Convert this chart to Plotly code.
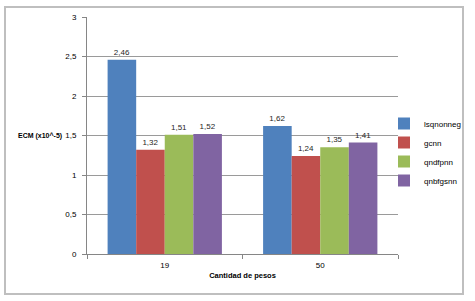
import plotly.graph_objects as go

categories = ["19", "50"]
series_names = ["lsqnonneg", "gcnn", "qndfpnn", "qnbfgsnn"]
values = {
    "lsqnonneg": [2.46, 1.62],
    "gcnn": [1.32, 1.24],
    "qndfpnn": [1.51, 1.35],
    "qnbfgsnn": [1.52, 1.41],
}
colors = ["#4F81BD", "#C0504D", "#9BBB59", "#8064A2"]
y_ticks = [0, 0.5, 1, 1.5, 2, 2.5, 3]
y_tick_labels = ["0", "0,5", "1", "1,5", "2", "2,5", "3"]

W, H = 475, 301
L, R, T, B = 87, 398, 17, 254
FONT = "Liberation Sans"

def px(p):
    return (p - L) / (R - L)

def py(p):
    return (B - p) / (B - T)

fig = go.Figure()
for name, c in zip(series_names, colors):
    fig.add_trace(go.Bar(
        x=categories, y=values[name], name=name,
        marker=dict(color=c, line=dict(width=0)),
        text=[f"{v:.2f}".replace(".", ",") for v in values[name]],
        textposition="outside", cliponaxis=False,
        textfont=dict(size=8, color="#262626", family=FONT),
    ))

fig.update_layout(
    width=W, height=H,
    margin=dict(l=L, r=W - R, t=T, b=H - B, pad=0, autoexpand=False),
    paper_bgcolor="white", plot_bgcolor="white",
    barmode="group", bargap=0.265, bargroupgap=0,
    font=dict(family=FONT, size=8, color="#000000"),
    showlegend=True,
    legend=dict(x=px(384), y=py(152), xanchor="left", yanchor="middle",
                font=dict(size=8, family=FONT),
                bgcolor="rgba(0,0,0,0)"),
    xaxis=dict(
        type="category", showline=True, linecolor="#868686", linewidth=1,
        ticks="outside", tickson="boundaries", ticklen=4, tickcolor="#868686",
        tickfont=dict(size=8), showgrid=False, ticklabelstandoff=3,
        title=dict(text="<b>Cantidad de pesos</b>", font=dict(size=7.5), standoff=4),
    ),
    yaxis=dict(
        range=[0, 3], tickvals=y_ticks, ticktext=y_tick_labels,
        showline=True, linecolor="#868686", linewidth=1,
        ticks="outside", ticklen=4, tickcolor="#868686",
        showgrid=True, gridcolor="#9a9a9a", gridwidth=1,
        zeroline=False, tickfont=dict(size=8), ticklabelstandoff=4,
    ),
    annotations=[dict(
        text="<b>ECM (x10^-5)</b>", xref="paper", yref="y",
        x=px(64), y=1.5, xanchor="right", yanchor="middle",
        showarrow=False, font=dict(size=7, family=FONT),
    )],
    shapes=[dict(
        type="rect", xref="paper", yref="paper",
        x0=px(5), x1=px(463), y0=py(294), y1=py(7),
        line=dict(color="#BFBFBF", width=2), fillcolor="rgba(0,0,0,0)", layer="below",
    )],
)

fig.write_html("out.html", config={"displayModeBar": False},
               post_script="document.body.style.margin='0';")
